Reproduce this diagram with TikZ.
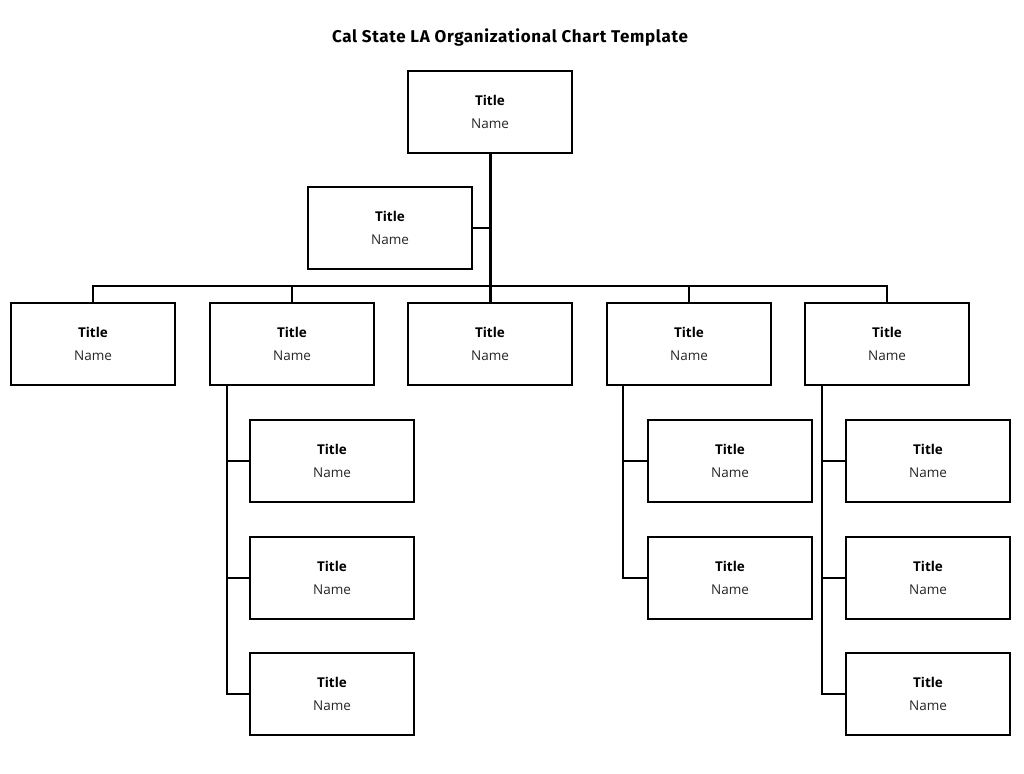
\documentclass[tikz,border=0pt]{standalone}
\usepackage{fontspec}
\setmainfont{Open Sans}
\newfontfamily\headfont[LetterSpace=4]{Fira Sans}
\begin{document}
\begin{tikzpicture}[x=1pt,y=-1pt,
  box/.style={draw=black,line width=2pt,fill=white,minimum width=164pt,minimum height=82pt,inner sep=0pt,outer sep=0pt,align=center,font=\fontsize{13.5}{24}\selectfont},
  con/.style={line width=2pt,draw=black},
  trunk/.style={line width=3pt,draw=black}]
\useasboundingbox (0,0) rectangle (1024,773);
\newcommand{\tn}{\textbf{Title}\\[-1pt]{\color{black!85}Name}}
\node[font=\headfont\bfseries\fontsize{17}{19}\selectfont] (head) at (510,37) {Cal State LA Organizational Chart Template};
\node[box] (top) at (490,112) {\tn};
\node[box] (asst) at (390,228) {\tn};
\node[box] (a) at (93,344) {\tn};
\node[box] (b) at (292,344) {\tn};
\node[box] (c) at (490,344) {\tn};
\node[box] (d) at (689,344) {\tn};
\node[box] (e) at (887,344) {\tn};
\node[box] (b1) at (332,461) {\tn};
\node[box] (b2) at (332,578) {\tn};
\node[box] (b3) at (332,694) {\tn};
\node[box] (d1) at (730,461) {\tn};
\node[box] (d2) at (730,578) {\tn};
\node[box] (e1) at (928,461) {\tn};
\node[box] (e2) at (928,578) {\tn};
\node[box] (e3) at (928,694) {\tn};
% main bar
\draw[con] (a.north) -- ++(0,-17) -| (e.north);
\draw[con] (b.north) -- ++(0,-17);
\draw[con] (d.north) -- ++(0,-17);
\draw[trunk] ([xshift=0.5pt]top.south) -- ([xshift=0.5pt]c.north);
\draw[con] (asst.east) -- (asst.east -| top.south);
% sub groups
\coordinate (bx) at ([xshift=-23pt]b1.west);
\draw[con] (bx |- b.south) -- (bx |- b3.west) -- (b3.west);
\draw[con] (bx |- b1.west) -- (b1.west);
\draw[con] (bx |- b2.west) -- (b2.west);
\coordinate (dx) at ([xshift=-25pt]d1.west);
\draw[con] (dx |- d.south) -- (dx |- d2.west) -- (d2.west);
\draw[con] (dx |- d1.west) -- (d1.west);
\coordinate (ex) at ([xshift=-24pt]e1.west);
\draw[con] (ex |- e.south) -- (ex |- e3.west) -- (e3.west);
\draw[con] (ex |- e1.west) -- (e1.west);
\draw[con] (ex |- e2.west) -- (e2.west);
\end{tikzpicture}
\end{document}
